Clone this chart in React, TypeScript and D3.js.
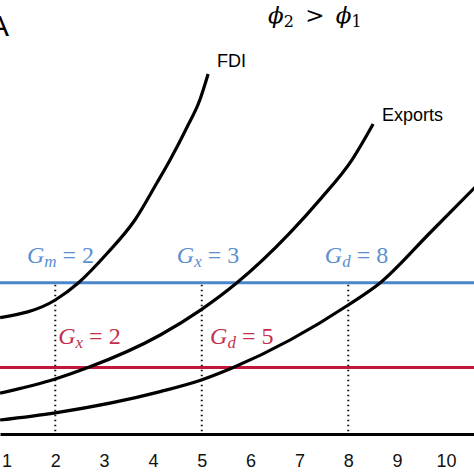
import React, { useEffect, useRef } from "react";
import * as d3 from "d3";

// number of firms / goods on the horizontal axis
const xTicks = [1, 2, 3, 4, 5, 6, 7, 8, 9, 10];

// profit curves, read as [x, y] pairs
const fdiCurve: [number, number][] = [
  [0.87, 29.1], [2.0, 33.5], [2.47, 37.75], [3.05, 45.0], [3.63, 53.5],
  [4.08, 62.75], [4.35, 68.5], [4.7, 76.75], [4.96, 83.5], [5.13, 90.0],
];
const exportCurve: [number, number][] = [
  [0.87, 10.2], [2.0, 13.75], [2.67, 16.6], [4.15, 24.75], [4.99, 31.1],
  [5.72, 37.8], [6.81, 50.35], [7.42, 58.6], [8.08, 68.6], [8.51, 77.5],
];
const domesticCurve: [number, number][] = [
  [0.87, 3.5], [2.0, 5.3], [4.15, 10.6], [4.99, 13.5], [5.62, 16.5],
  [8.0, 32.25], [8.65, 37.75], [9.67, 50.25], [10.58, 61.5], [10.9, 65.5],
];

// fixed cost thresholds
const highCost = 37.8;
const lowCost = 16.6;
const cutoffs = [2, 5, 8];

const highLabels = [
  { x: 1.42, sub: "m", val: "2" },
  { x: 4.49, sub: "x", val: "3" },
  { x: 7.52, sub: "d", val: "8" },
];
const lowLabels = [
  { x: 2.06, sub: "x", val: "2" },
  { x: 5.17, sub: "d", val: "5" },
];

const BLUE = "#4a86cc";
const RED = "#c0173b";

const App = () => {
  const ref = useRef<SVGSVGElement>(null);

  useEffect(() => {
    const svg = d3.select(ref.current);
    svg.selectAll("*").remove();

    const W = 474;
    const x = d3.scaleLinear().domain([0.868, 10.575]).range([0, W]);
    const y = d3.scaleLinear().domain([0, 100]).range([434, 34]);

    // panel letter, mostly outside the frame
    svg.append("text")
      .attr("x", 9).attr("y", 36)
      .attr("text-anchor", "end")
      .attr("font-family", "Liberation Sans")
      .attr("font-size", 30)
      .text("A");

    // title
    const title = svg.append("text")
      .attr("x", 268).attr("y", 23)
      .attr("font-family", "DejaVu Serif")
      .attr("font-size", 23)
      .attr("fill", "#000");
    title.append("tspan").attr("font-style", "italic").text("\u03D5");
    title.append("tspan").attr("font-size", 16).attr("dy", 4).text("2");
    title.append("tspan").attr("dy", -4).attr("dx", 4).text(" > ");
    title.append("tspan").attr("dx", 4).attr("font-style", "italic").text("\u03D5");
    title.append("tspan").attr("font-size", 16).attr("dy", 4).text("1");

    // dotted cutoffs
    svg.selectAll(".cut").data(cutoffs).enter().append("line")
      .attr("x1", (d) => x(d)).attr("x2", (d) => x(d))
      .attr("y1", y(highCost) + 2).attr("y2", y(0))
      .attr("stroke", "#111")
      .attr("stroke-width", 2)
      .attr("stroke-dasharray", "1.5 3.5");

    // threshold lines
    svg.append("line")
      .attr("x1", 0).attr("x2", W)
      .attr("y1", y(highCost)).attr("y2", y(highCost))
      .attr("stroke", BLUE).attr("stroke-width", 3);
    svg.append("line")
      .attr("x1", 0).attr("x2", W)
      .attr("y1", y(lowCost)).attr("y2", y(lowCost))
      .attr("stroke", RED).attr("stroke-width", 3);

    const gLabel = (d: { x: number; sub: string; val: string }, level: number, off: number, color: string) => {
      const t = svg.append("text")
        .attr("x", x(d.x)).attr("y", y(level) - off)
        .attr("font-family", "Liberation Serif")
        .attr("font-size", 24)
        .attr("fill", color);
      t.append("tspan").attr("font-style", "italic").text("G");
      t.append("tspan").attr("font-style", "italic").attr("font-size", 17).attr("dy", 4).text(d.sub);
      t.append("tspan").attr("dy", -4).text(" = " + d.val);
    };
    highLabels.forEach((d) => gLabel(d, highCost, 20, "#5a8fd0"));
    lowLabels.forEach((d) => gLabel(d, lowCost, 23.5, "#c4304c"));

    // curves
    const line = d3.line<[number, number]>()
      .x((d) => x(d[0]))
      .y((d) => y(d[1]))
      .curve(d3.curveMonotoneX);
    [fdiCurve, exportCurve, domesticCurve].forEach((c) => {
      svg.append("path")
        .attr("d", line(c))
        .attr("fill", "none")
        .attr("stroke", "#000")
        .attr("stroke-width", 3.2);
    });

    svg.append("text")
      .attr("x", 217).attr("y", 67)
      .attr("font-family", "Liberation Sans").attr("font-size", 18)
      .text("FDI");
    svg.append("text")
      .attr("x", 382).attr("y", 121)
      .attr("font-family", "Liberation Sans").attr("font-size", 18)
      .text("Exports");

    // x axis
    const axis = svg.append("g")
      .attr("transform", `translate(0,${y(0)})`)
      .call(d3.axisBottom(x).tickValues(xTicks).tickSize(0).tickSizeOuter(0).tickPadding(20));
    axis.select(".domain").attr("stroke", "#000").attr("stroke-width", 3.2);
    axis.selectAll("text")
      .attr("font-family", "Liberation Sans")
      .attr("font-size", 18)
      .attr("fill", "#111");
  }, []);

  return (
    <svg
      ref={ref}
      width={474}
      height={474}
      style={{ position: "absolute", left: 0, top: 0, background: "#fff" }}
    ></svg>
  );
};

export default App;
